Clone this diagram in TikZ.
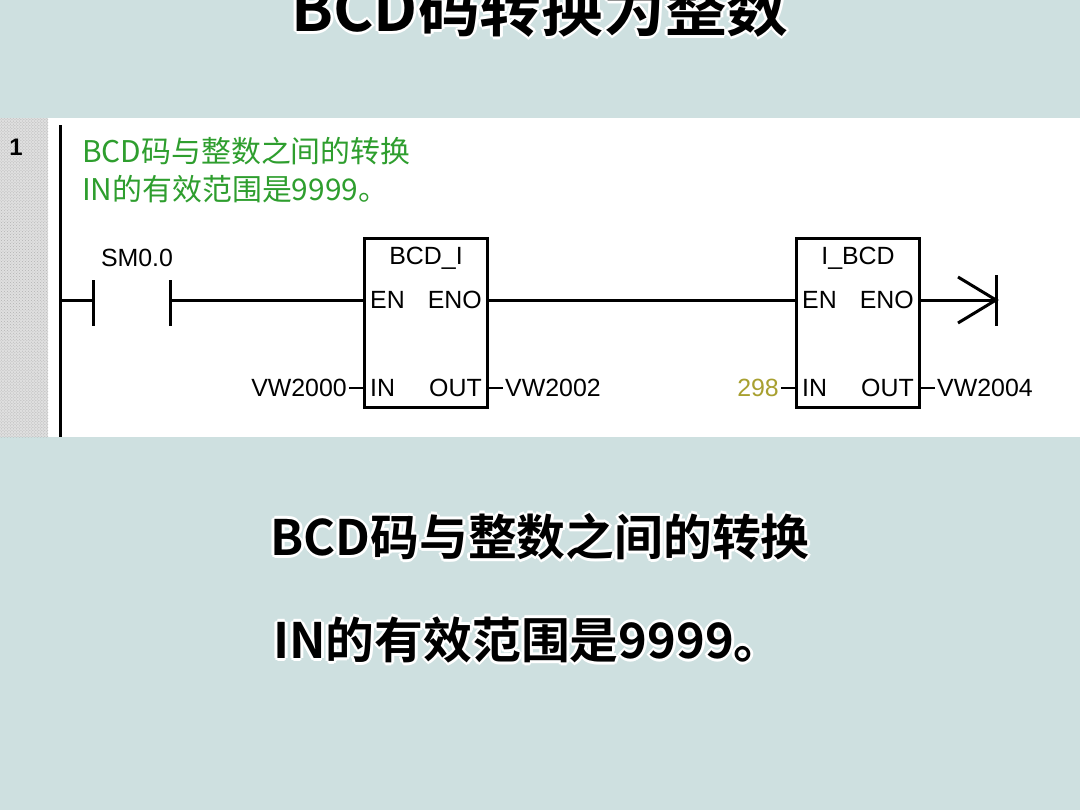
\documentclass[tikz,border=0pt]{standalone}
\usepackage{fontspec}
\setmainfont{Liberation Sans}
\newfontfamily\cjk{Noto Sans CJK SC}
\newfontfamily\cjkbold{Noto Sans CJK SC Bold}
\usetikzlibrary{patterns}
\definecolor{bgblue}{HTML}{CEE0E0}
\definecolor{cmtgreen}{HTML}{2E9E2E}
\definecolor{constcol}{HTML}{A8A030}
\tikzset{
  wire/.style={line width=3bp},
  fbox/.style={draw, line width=3bp, minimum width=123bp, minimum height=169bp, anchor=north west, inner sep=0pt},
  pin/.style={font=\fontsize{25}{27}\selectfont, inner sep=1bp},
  big/.style={font=\cjkbold\fontsize{49}{52}\selectfont},
  huge/.style={font=\cjkbold\fontsize{62}{66}\selectfont},
}
\newcommand{\glowtext}[3]{% x,y  style  text
  \foreach \dx/\dy in {2/0,-2/0,0/2,0/-2,1.5/1.5,-1.5/1.5,1.5/-1.5,-1.5/-1.5,3/0,-3/0,0/3,0/-3}
    \node[#2, white] at ([shift={(\dx,\dy)}]#1) {#3};
  \node[#2, black] at (#1) {#3};
}
\begin{document}
\begin{tikzpicture}[x=1bp, y=-1bp]
    \fill[bgblue] (0,0) rectangle (1080,810);
    \useasboundingbox (0,0) rectangle (1080,810);
    % title, cut by the top edge
    \begin{scope}
        \clip (0,0) rectangle (1080,810);
        \glowtext{540,8}{huge}{BCD码转换为整数}
    \end{scope}
    % ladder panel
    \fill[white] (0,118) rectangle (1080,437);
    \fill[gray!25] (0,118) rectangle (48,437);
    \fill[pattern=crosshatch dots, pattern color=gray!60] (0,118) rectangle (48,437);
    \node[font=\bfseries\fontsize{24}{26}\selectfont] (net) at (16,147) {1};
    \draw[wire] (60,125) -- (60,437);
    \node[cmtgreen, font=\cjk\fontsize{30}{38}\selectfont, anchor=west, align=left, inner sep=0pt] (cmt) at (82,170)
        {BCD码与整数之间的转换\\IN的有效范围是9999。};
    % contact SM0.0
    \coordinate (rail) at (60,300);
    \coordinate (ca) at (93,300);
    \coordinate (cb) at (170,300);
    \draw[wire] (93,280) -- (93,326);
    \draw[wire] (170,280) -- (170,326);
    \node[pin] (sm) at (137,258) {SM0.0};
    % boxes
    \node[fbox] (bcdi) at (363,237) {};
    \node[fbox] (ibcd) at (795,237) {};
    \foreach \b/\t in {bcdi/BCD\_I, ibcd/I\_BCD}{
        \node[pin] at ([shift={(0,21)}]\b.north) {\t};
        \node[pin, anchor=west] at ([shift={(6,63)}]\b.north west) {EN};
        \node[pin, anchor=east] at ([shift={(-6,63)}]\b.north east) {ENO};
        \node[pin, anchor=west] at ([shift={(6,151)}]\b.north west) {IN};
        \node[pin, anchor=east] at ([shift={(-6,151)}]\b.north east) {OUT};
    }
    \draw[wire] (rail) -- (ca);
    \draw[wire] (cb) -- ([shift={(0,63)}]bcdi.north west);
    \draw[wire] ([shift={(0,63)}]bcdi.north east) -- ([shift={(0,63)}]ibcd.north west);
    \coordinate (endc) at (996,300);
    \draw[wire] ([shift={(0,63)}]ibcd.north east) -- (endc);
    \draw[wire] (996,275) -- (996,326);
    \draw[wire] (958,277) -- (endc) -- (958,323);
    % operands
    \foreach \b/\l/\r/\lc in {bcdi/VW2000/VW2002/black, ibcd/298/VW2004/constcol}{
        \draw[line width=2.5bp] ([shift={(0,151)}]\b.north west) -- ++(-14,0);
        \draw[line width=2.5bp] ([shift={(0,151)}]\b.north east) -- ++(14,0);
        \node[pin, \lc, anchor=east] at ([shift={(-15,151)}]\b.north west) {\l};
        \node[pin, anchor=west] at ([shift={(15,151)}]\b.north east) {\r};
    }
    % captions
    \glowtext{540,537}{big}{BCD码与整数之间的转换}
    \glowtext{528,640}{big}{IN的有效范围是9999。}
\end{tikzpicture}
\end{document}
